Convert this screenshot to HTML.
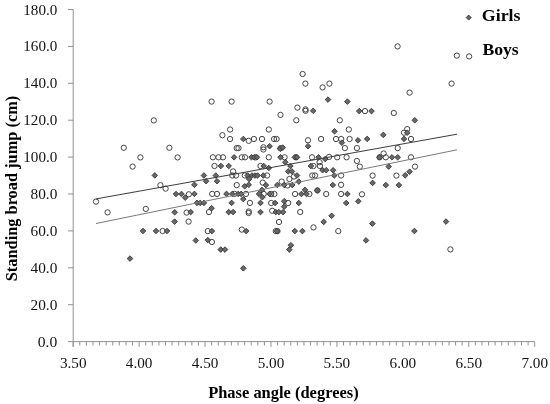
<!DOCTYPE html>
<html><head><meta charset="utf-8"><title>Standing broad jump vs phase angle</title>
<style>
html,body{margin:0;padding:0;background:#fff;}
svg{display:block;}
text{font-family:"Liberation Serif",serif;fill:#111;}
.tk{font-size:15.2px;}
.b{font-weight:bold;font-size:17.3px;fill:#000;}
</style></head><body>
<svg width="550" height="404" viewBox="0 0 550 404">
<rect width="550" height="404" fill="#fff"/>

<g stroke="#929292" stroke-width="1" fill="none" shape-rendering="auto">
<line x1="73.2" y1="9.5" x2="73.2" y2="346.9"/>
<line x1="73.2" y1="341.6" x2="534.7" y2="341.6"/>
<line x1="68" y1="341.60" x2="73.2" y2="341.60"/>
<line x1="68" y1="304.70" x2="73.2" y2="304.70"/>
<line x1="68" y1="267.80" x2="73.2" y2="267.80"/>
<line x1="68" y1="230.90" x2="73.2" y2="230.90"/>
<line x1="68" y1="194.00" x2="73.2" y2="194.00"/>
<line x1="68" y1="157.10" x2="73.2" y2="157.10"/>
<line x1="68" y1="120.20" x2="73.2" y2="120.20"/>
<line x1="68" y1="83.30" x2="73.2" y2="83.30"/>
<line x1="68" y1="46.40" x2="73.2" y2="46.40"/>
<line x1="68" y1="9.50" x2="73.2" y2="9.50"/>
<line x1="73.20" y1="341.6" x2="73.20" y2="346.9"/>
<line x1="79.79" y1="341.6" x2="79.79" y2="345.5"/>
<line x1="86.39" y1="341.6" x2="86.39" y2="345.5"/>
<line x1="92.98" y1="341.6" x2="92.98" y2="345.5"/>
<line x1="99.57" y1="341.6" x2="99.57" y2="345.5"/>
<line x1="106.16" y1="341.6" x2="106.16" y2="345.5"/>
<line x1="112.76" y1="341.6" x2="112.76" y2="345.5"/>
<line x1="119.35" y1="341.6" x2="119.35" y2="345.5"/>
<line x1="125.94" y1="341.6" x2="125.94" y2="345.5"/>
<line x1="132.54" y1="341.6" x2="132.54" y2="345.5"/>
<line x1="139.13" y1="341.6" x2="139.13" y2="346.9"/>
<line x1="145.72" y1="341.6" x2="145.72" y2="345.5"/>
<line x1="152.31" y1="341.6" x2="152.31" y2="345.5"/>
<line x1="158.91" y1="341.6" x2="158.91" y2="345.5"/>
<line x1="165.50" y1="341.6" x2="165.50" y2="345.5"/>
<line x1="172.09" y1="341.6" x2="172.09" y2="345.5"/>
<line x1="178.69" y1="341.6" x2="178.69" y2="345.5"/>
<line x1="185.28" y1="341.6" x2="185.28" y2="345.5"/>
<line x1="191.87" y1="341.6" x2="191.87" y2="345.5"/>
<line x1="198.46" y1="341.6" x2="198.46" y2="345.5"/>
<line x1="205.06" y1="341.6" x2="205.06" y2="346.9"/>
<line x1="211.65" y1="341.6" x2="211.65" y2="345.5"/>
<line x1="218.24" y1="341.6" x2="218.24" y2="345.5"/>
<line x1="224.84" y1="341.6" x2="224.84" y2="345.5"/>
<line x1="231.43" y1="341.6" x2="231.43" y2="345.5"/>
<line x1="238.02" y1="341.6" x2="238.02" y2="345.5"/>
<line x1="244.61" y1="341.6" x2="244.61" y2="345.5"/>
<line x1="251.21" y1="341.6" x2="251.21" y2="345.5"/>
<line x1="257.80" y1="341.6" x2="257.80" y2="345.5"/>
<line x1="264.39" y1="341.6" x2="264.39" y2="345.5"/>
<line x1="270.99" y1="341.6" x2="270.99" y2="346.9"/>
<line x1="277.58" y1="341.6" x2="277.58" y2="345.5"/>
<line x1="284.17" y1="341.6" x2="284.17" y2="345.5"/>
<line x1="290.76" y1="341.6" x2="290.76" y2="345.5"/>
<line x1="297.36" y1="341.6" x2="297.36" y2="345.5"/>
<line x1="303.95" y1="341.6" x2="303.95" y2="345.5"/>
<line x1="310.54" y1="341.6" x2="310.54" y2="345.5"/>
<line x1="317.14" y1="341.6" x2="317.14" y2="345.5"/>
<line x1="323.73" y1="341.6" x2="323.73" y2="345.5"/>
<line x1="330.32" y1="341.6" x2="330.32" y2="345.5"/>
<line x1="336.91" y1="341.6" x2="336.91" y2="346.9"/>
<line x1="343.51" y1="341.6" x2="343.51" y2="345.5"/>
<line x1="350.10" y1="341.6" x2="350.10" y2="345.5"/>
<line x1="356.69" y1="341.6" x2="356.69" y2="345.5"/>
<line x1="363.29" y1="341.6" x2="363.29" y2="345.5"/>
<line x1="369.88" y1="341.6" x2="369.88" y2="345.5"/>
<line x1="376.47" y1="341.6" x2="376.47" y2="345.5"/>
<line x1="383.06" y1="341.6" x2="383.06" y2="345.5"/>
<line x1="389.66" y1="341.6" x2="389.66" y2="345.5"/>
<line x1="396.25" y1="341.6" x2="396.25" y2="345.5"/>
<line x1="402.84" y1="341.6" x2="402.84" y2="346.9"/>
<line x1="409.44" y1="341.6" x2="409.44" y2="345.5"/>
<line x1="416.03" y1="341.6" x2="416.03" y2="345.5"/>
<line x1="422.62" y1="341.6" x2="422.62" y2="345.5"/>
<line x1="429.21" y1="341.6" x2="429.21" y2="345.5"/>
<line x1="435.81" y1="341.6" x2="435.81" y2="345.5"/>
<line x1="442.40" y1="341.6" x2="442.40" y2="345.5"/>
<line x1="448.99" y1="341.6" x2="448.99" y2="345.5"/>
<line x1="455.59" y1="341.6" x2="455.59" y2="345.5"/>
<line x1="462.18" y1="341.6" x2="462.18" y2="345.5"/>
<line x1="468.77" y1="341.6" x2="468.77" y2="346.9"/>
<line x1="475.36" y1="341.6" x2="475.36" y2="345.5"/>
<line x1="481.96" y1="341.6" x2="481.96" y2="345.5"/>
<line x1="488.55" y1="341.6" x2="488.55" y2="345.5"/>
<line x1="495.14" y1="341.6" x2="495.14" y2="345.5"/>
<line x1="501.74" y1="341.6" x2="501.74" y2="345.5"/>
<line x1="508.33" y1="341.6" x2="508.33" y2="345.5"/>
<line x1="514.92" y1="341.6" x2="514.92" y2="345.5"/>
<line x1="521.51" y1="341.6" x2="521.51" y2="345.5"/>
<line x1="528.11" y1="341.6" x2="528.11" y2="345.5"/>
<line x1="534.70" y1="341.6" x2="534.70" y2="346.9"/>
</g>
<text class="tk" x="57.3" y="346.60" text-anchor="end" textLength="19.5" lengthAdjust="spacingAndGlyphs">0.0</text>
<text class="tk" x="57.3" y="309.70" text-anchor="end" textLength="26.8" lengthAdjust="spacingAndGlyphs">20.0</text>
<text class="tk" x="57.3" y="272.80" text-anchor="end" textLength="26.8" lengthAdjust="spacingAndGlyphs">40.0</text>
<text class="tk" x="57.3" y="235.90" text-anchor="end" textLength="26.8" lengthAdjust="spacingAndGlyphs">60.0</text>
<text class="tk" x="57.3" y="199.00" text-anchor="end" textLength="26.8" lengthAdjust="spacingAndGlyphs">80.0</text>
<text class="tk" x="57.3" y="162.10" text-anchor="end" textLength="34" lengthAdjust="spacingAndGlyphs">100.0</text>
<text class="tk" x="57.3" y="125.20" text-anchor="end" textLength="34" lengthAdjust="spacingAndGlyphs">120.0</text>
<text class="tk" x="57.3" y="88.30" text-anchor="end" textLength="34" lengthAdjust="spacingAndGlyphs">140.0</text>
<text class="tk" x="57.3" y="51.40" text-anchor="end" textLength="34" lengthAdjust="spacingAndGlyphs">160.0</text>
<text class="tk" x="57.3" y="14.50" text-anchor="end" textLength="34" lengthAdjust="spacingAndGlyphs">180.0</text>
<text class="tk" x="73.20" y="368.4" text-anchor="middle" textLength="26.6" lengthAdjust="spacingAndGlyphs">3.50</text>
<text class="tk" x="139.13" y="368.4" text-anchor="middle" textLength="26.6" lengthAdjust="spacingAndGlyphs">4.00</text>
<text class="tk" x="205.06" y="368.4" text-anchor="middle" textLength="26.6" lengthAdjust="spacingAndGlyphs">4.50</text>
<text class="tk" x="270.99" y="368.4" text-anchor="middle" textLength="26.6" lengthAdjust="spacingAndGlyphs">5.00</text>
<text class="tk" x="336.91" y="368.4" text-anchor="middle" textLength="26.6" lengthAdjust="spacingAndGlyphs">5.50</text>
<text class="tk" x="402.84" y="368.4" text-anchor="middle" textLength="26.6" lengthAdjust="spacingAndGlyphs">6.00</text>
<text class="tk" x="468.77" y="368.4" text-anchor="middle" textLength="26.6" lengthAdjust="spacingAndGlyphs">6.50</text>
<text class="tk" x="534.70" y="368.4" text-anchor="middle" textLength="26.6" lengthAdjust="spacingAndGlyphs">7.00</text>
<text class="b" x="283.4" y="398.1" text-anchor="middle" textLength="150.5" lengthAdjust="spacingAndGlyphs">Phase angle (degrees)</text>
<text class="b" transform="translate(16.6,188.5) rotate(-90)" text-anchor="middle" textLength="185.5" lengthAdjust="spacingAndGlyphs">Standing broad jump (cm)</text>
<text class="b" x="481.8" y="21.3" textLength="38.7" lengthAdjust="spacingAndGlyphs">Girls</text>
<text class="b" x="482.4" y="55.1" textLength="36.3" lengthAdjust="spacingAndGlyphs">Boys</text>
<g fill="none" stroke="#454545" stroke-width="1">
<circle cx="153.8" cy="120.4" r="2.65"/>
<circle cx="123.8" cy="147.8" r="2.65"/>
<circle cx="169.4" cy="147.8" r="2.65"/>
<circle cx="140.4" cy="157.4" r="2.65"/>
<circle cx="177.6" cy="157.4" r="2.65"/>
<circle cx="132.6" cy="166.6" r="2.65"/>
<circle cx="160.4" cy="185.2" r="2.65"/>
<circle cx="165.6" cy="188.6" r="2.65"/>
<circle cx="212.9" cy="157.3" r="2.65"/>
<circle cx="218.5" cy="157.3" r="2.65"/>
<circle cx="223.0" cy="157.3" r="2.65"/>
<circle cx="241.8" cy="157.3" r="2.65"/>
<circle cx="245.0" cy="157.3" r="2.65"/>
<circle cx="255.5" cy="157.3" r="2.65"/>
<circle cx="268.8" cy="157.3" r="2.65"/>
<circle cx="236.7" cy="148.1" r="2.65"/>
<circle cx="238.5" cy="148.1" r="2.65"/>
<circle cx="263.4" cy="147.3" r="2.65"/>
<circle cx="263.4" cy="149.5" r="2.65"/>
<circle cx="230.1" cy="139.0" r="2.65"/>
<circle cx="248.7" cy="140.8" r="2.65"/>
<circle cx="253.9" cy="139.0" r="2.65"/>
<circle cx="262.0" cy="139.0" r="2.65"/>
<circle cx="222.4" cy="135.2" r="2.65"/>
<circle cx="230.1" cy="129.5" r="2.65"/>
<circle cx="268.8" cy="129.5" r="2.65"/>
<circle cx="297.4" cy="107.6" r="2.65"/>
<circle cx="305.5" cy="109.4" r="2.65"/>
<circle cx="305.5" cy="110.8" r="2.65"/>
<circle cx="280.5" cy="114.9" r="2.65"/>
<circle cx="296.3" cy="120.3" r="2.65"/>
<circle cx="339.8" cy="120.3" r="2.65"/>
<circle cx="348.8" cy="129.5" r="2.65"/>
<circle cx="274.1" cy="139.0" r="2.65"/>
<circle cx="276.6" cy="139.0" r="2.65"/>
<circle cx="321.1" cy="139.0" r="2.65"/>
<circle cx="336.0" cy="139.0" r="2.65"/>
<circle cx="341.2" cy="139.0" r="2.65"/>
<circle cx="349.6" cy="139.0" r="2.65"/>
<circle cx="308.0" cy="140.3" r="2.65"/>
<circle cx="280.5" cy="148.1" r="2.65"/>
<circle cx="344.9" cy="148.1" r="2.65"/>
<circle cx="284.6" cy="157.3" r="2.65"/>
<circle cx="296.0" cy="157.3" r="2.65"/>
<circle cx="312.0" cy="157.3" r="2.65"/>
<circle cx="329.1" cy="156.9" r="2.65"/>
<circle cx="337.2" cy="157.3" r="2.65"/>
<circle cx="346.6" cy="157.3" r="2.65"/>
<circle cx="319.6" cy="162.2" r="2.65"/>
<circle cx="365.0" cy="111.1" r="2.65"/>
<circle cx="393.8" cy="113.0" r="2.65"/>
<circle cx="407.2" cy="129.1" r="2.65"/>
<circle cx="404.0" cy="132.7" r="2.65"/>
<circle cx="411.0" cy="139.0" r="2.65"/>
<circle cx="356.9" cy="148.1" r="2.65"/>
<circle cx="397.7" cy="148.1" r="2.65"/>
<circle cx="383.6" cy="153.5" r="2.65"/>
<circle cx="379.6" cy="157.3" r="2.65"/>
<circle cx="385.8" cy="157.3" r="2.65"/>
<circle cx="411.0" cy="157.3" r="2.65"/>
<circle cx="356.9" cy="160.9" r="2.65"/>
<circle cx="211.6" cy="101.6" r="2.65"/>
<circle cx="231.6" cy="101.6" r="2.65"/>
<circle cx="269.6" cy="101.6" r="2.65"/>
<circle cx="397.6" cy="46.4" r="2.65"/>
<circle cx="302.6" cy="74.0" r="2.65"/>
<circle cx="305.4" cy="83.6" r="2.65"/>
<circle cx="329.4" cy="83.6" r="2.65"/>
<circle cx="322.6" cy="87.4" r="2.65"/>
<circle cx="456.8" cy="55.6" r="2.65"/>
<circle cx="451.6" cy="83.6" r="2.65"/>
<circle cx="409.6" cy="92.6" r="2.65"/>
<circle cx="214.5" cy="166.0" r="2.65"/>
<circle cx="260.5" cy="166.0" r="2.65"/>
<circle cx="233.1" cy="171.4" r="2.65"/>
<circle cx="232.3" cy="175.5" r="2.65"/>
<circle cx="236.0" cy="175.5" r="2.65"/>
<circle cx="244.8" cy="175.5" r="2.65"/>
<circle cx="267.1" cy="175.5" r="2.65"/>
<circle cx="236.7" cy="185.1" r="2.65"/>
<circle cx="262.7" cy="182.6" r="2.65"/>
<circle cx="212.2" cy="193.9" r="2.65"/>
<circle cx="217.0" cy="193.9" r="2.65"/>
<circle cx="246.0" cy="193.9" r="2.65"/>
<circle cx="234.5" cy="193.9" r="2.65"/>
<circle cx="263.7" cy="193.9" r="2.65"/>
<circle cx="249.9" cy="202.9" r="2.65"/>
<circle cx="209.0" cy="212.1" r="2.65"/>
<circle cx="248.7" cy="211.5" r="2.65"/>
<circle cx="248.7" cy="213.0" r="2.65"/>
<circle cx="313.5" cy="166.0" r="2.65"/>
<circle cx="319.9" cy="166.0" r="2.65"/>
<circle cx="312.3" cy="175.5" r="2.65"/>
<circle cx="315.0" cy="175.5" r="2.65"/>
<circle cx="341.1" cy="175.5" r="2.65"/>
<circle cx="294.0" cy="176.5" r="2.65"/>
<circle cx="289.4" cy="179.0" r="2.65"/>
<circle cx="281.7" cy="181.6" r="2.65"/>
<circle cx="287.5" cy="185.5" r="2.65"/>
<circle cx="341.1" cy="184.8" r="2.65"/>
<circle cx="317.4" cy="190.4" r="2.65"/>
<circle cx="271.2" cy="194.0" r="2.65"/>
<circle cx="274.4" cy="194.0" r="2.65"/>
<circle cx="295.1" cy="194.0" r="2.65"/>
<circle cx="309.4" cy="194.0" r="2.65"/>
<circle cx="326.2" cy="194.0" r="2.65"/>
<circle cx="341.1" cy="194.0" r="2.65"/>
<circle cx="271.2" cy="203.0" r="2.65"/>
<circle cx="288.2" cy="203.0" r="2.65"/>
<circle cx="272.2" cy="210.8" r="2.65"/>
<circle cx="300.2" cy="212.0" r="2.65"/>
<circle cx="359.8" cy="166.6" r="2.65"/>
<circle cx="415.0" cy="166.6" r="2.65"/>
<circle cx="372.6" cy="175.6" r="2.65"/>
<circle cx="396.4" cy="175.6" r="2.65"/>
<circle cx="362.0" cy="194.3" r="2.65"/>
<circle cx="188.8" cy="194.3" r="2.65"/>
<circle cx="145.8" cy="208.9" r="2.65"/>
<circle cx="186.6" cy="212.6" r="2.65"/>
<circle cx="96.0" cy="201.6" r="2.65"/>
<circle cx="107.6" cy="212.4" r="2.65"/>
<circle cx="188.6" cy="221.6" r="2.65"/>
<circle cx="162.6" cy="231.0" r="2.65"/>
<circle cx="207.8" cy="231.1" r="2.65"/>
<circle cx="241.8" cy="229.6" r="2.65"/>
<circle cx="211.9" cy="242.0" r="2.65"/>
<circle cx="279.0" cy="222.0" r="2.65"/>
<circle cx="313.5" cy="227.4" r="2.65"/>
<circle cx="338.3" cy="231.1" r="2.65"/>
<circle cx="275.8" cy="231.1" r="2.65"/>
<circle cx="277.5" cy="231.1" r="2.65"/>
<circle cx="450.4" cy="249.4" r="2.65"/>
<circle cx="469.1" cy="56.4" r="2.65"/>
</g>
<g fill="#686868" stroke="#323232" stroke-width="0.85">
<path d="M152.0 175.4L154.8 172.6L157.6 175.4L154.8 178.2Z"/>
<path d="M231.3 157.3L234.1 154.5L236.9 157.3L234.1 160.1Z"/>
<path d="M248.7 157.3L251.5 154.5L254.3 157.3L251.5 160.1Z"/>
<path d="M251.4 157.3L254.2 154.5L257.0 157.3L254.2 160.1Z"/>
<path d="M254.2 157.3L257.0 154.5L259.8 157.3L257.0 160.1Z"/>
<path d="M266.8 146.2L269.6 143.4L272.4 146.2L269.6 149.0Z"/>
<path d="M240.5 139.0L243.3 136.2L246.1 139.0L243.3 141.8Z"/>
<path d="M310.4 110.8L313.2 108.0L316.0 110.8L313.2 113.6Z"/>
<path d="M331.7 131.3L334.5 128.5L337.3 131.3L334.5 134.1Z"/>
<path d="M339.0 142.7L341.8 139.9L344.6 142.7L341.8 145.5Z"/>
<path d="M305.2 146.2L308.0 143.4L310.8 146.2L308.0 149.0Z"/>
<path d="M277.4 148.8L280.2 146.0L283.0 148.8L280.2 151.6Z"/>
<path d="M280.0 147.6L282.8 144.8L285.6 147.6L282.8 150.4Z"/>
<path d="M277.7 157.3L280.5 154.5L283.3 157.3L280.5 160.1Z"/>
<path d="M292.0 157.3L294.8 154.5L297.6 157.3L294.8 160.1Z"/>
<path d="M294.2 157.3L297.0 154.5L299.8 157.3L297.0 160.1Z"/>
<path d="M315.7 157.3L318.5 154.5L321.3 157.3L318.5 160.1Z"/>
<path d="M322.4 159.0L325.2 156.2L328.0 159.0L325.2 161.8Z"/>
<path d="M282.5 162.2L285.3 159.4L288.1 162.2L285.3 165.0Z"/>
<path d="M356.4 111.1L359.2 108.3L362.0 111.1L359.2 113.9Z"/>
<path d="M368.7 111.1L371.5 108.3L374.3 111.1L371.5 113.9Z"/>
<path d="M412.0 120.3L414.8 117.5L417.6 120.3L414.8 123.1Z"/>
<path d="M404.4 132.7L407.2 129.9L410.0 132.7L407.2 135.5Z"/>
<path d="M380.5 134.9L383.3 132.1L386.1 134.9L383.3 137.7Z"/>
<path d="M355.2 140.3L358.0 137.5L360.8 140.3L358.0 143.1Z"/>
<path d="M364.4 138.9L367.2 136.1L370.0 138.9L367.2 141.7Z"/>
<path d="M401.2 138.9L404.0 136.1L406.8 138.9L404.0 141.7Z"/>
<path d="M376.8 157.3L379.6 154.5L382.4 157.3L379.6 160.1Z"/>
<path d="M389.2 157.3L392.0 154.5L394.8 157.3L392.0 160.1Z"/>
<path d="M394.9 157.3L397.7 154.5L400.5 157.3L397.7 160.1Z"/>
<path d="M325.2 99.6L328.0 96.8L330.8 99.6L328.0 102.4Z"/>
<path d="M344.6 101.6L347.4 98.8L350.2 101.6L347.4 104.4Z"/>
<path d="M218.1 166.0L220.9 163.2L223.7 166.0L220.9 168.8Z"/>
<path d="M225.9 166.0L228.7 163.2L231.5 166.0L228.7 168.8Z"/>
<path d="M260.9 166.0L263.7 163.2L266.5 166.0L263.7 168.8Z"/>
<path d="M266.0 168.0L268.8 165.2L271.6 168.0L268.8 170.8Z"/>
<path d="M201.1 175.5L203.9 172.7L206.7 175.5L203.9 178.3Z"/>
<path d="M213.0 175.5L215.8 172.7L218.6 175.5L215.8 178.3Z"/>
<path d="M244.8 175.5L247.6 172.7L250.4 175.5L247.6 178.3Z"/>
<path d="M249.2 175.5L252.0 172.7L254.8 175.5L252.0 178.3Z"/>
<path d="M252.2 175.5L255.0 172.7L257.8 175.5L255.0 178.3Z"/>
<path d="M254.7 175.5L257.5 172.7L260.3 175.5L257.5 178.3Z"/>
<path d="M260.5 175.5L263.3 172.7L266.1 175.5L263.3 178.3Z"/>
<path d="M203.3 181.2L206.1 178.4L208.9 181.2L206.1 184.0Z"/>
<path d="M214.2 181.2L217.0 178.4L219.8 181.2L217.0 184.0Z"/>
<path d="M246.3 179.0L249.1 176.2L251.9 179.0L249.1 181.8Z"/>
<path d="M191.6 184.8L194.4 182.0L197.2 184.8L194.4 187.6Z"/>
<path d="M241.9 186.3L244.7 183.5L247.5 186.3L244.7 189.1Z"/>
<path d="M245.9 184.8L248.7 182.0L251.5 184.8L248.7 187.6Z"/>
<path d="M263.1 185.1L265.9 182.3L268.7 185.1L265.9 187.9Z"/>
<path d="M259.2 189.9L262.0 187.1L264.8 189.9L262.0 192.7Z"/>
<path d="M191.6 193.9L194.4 191.1L197.2 193.9L194.4 196.7Z"/>
<path d="M223.7 193.9L226.5 191.1L229.3 193.9L226.5 196.7Z"/>
<path d="M229.5 193.9L232.3 191.1L235.1 193.9L232.3 196.7Z"/>
<path d="M235.4 193.9L238.2 191.1L241.0 193.9L238.2 196.7Z"/>
<path d="M238.3 193.9L241.1 191.1L243.9 193.9L241.1 196.7Z"/>
<path d="M256.2 193.9L259.0 191.1L261.8 193.9L259.0 196.7Z"/>
<path d="M266.8 193.9L269.6 191.1L272.4 193.9L269.6 196.7Z"/>
<path d="M240.5 199.1L243.3 196.3L246.1 199.1L243.3 201.9Z"/>
<path d="M259.5 197.2L262.3 194.4L265.1 197.2L262.3 200.0Z"/>
<path d="M194.2 202.9L197.0 200.1L199.8 202.9L197.0 205.7Z"/>
<path d="M197.4 202.9L200.2 200.1L203.0 202.9L200.2 205.7Z"/>
<path d="M201.1 202.9L203.9 200.1L206.7 202.9L203.9 205.7Z"/>
<path d="M228.8 202.9L231.6 200.1L234.4 202.9L231.6 205.7Z"/>
<path d="M257.7 202.9L260.5 200.1L263.3 202.9L260.5 205.7Z"/>
<path d="M208.8 208.2L211.6 205.4L214.4 208.2L211.6 211.0Z"/>
<path d="M187.9 212.1L190.7 209.3L193.5 212.1L190.7 214.9Z"/>
<path d="M225.9 212.1L228.7 209.3L231.5 212.1L228.7 214.9Z"/>
<path d="M230.3 212.1L233.1 209.3L235.9 212.1L233.1 214.9Z"/>
<path d="M257.7 212.1L260.5 209.3L263.3 212.1L260.5 214.9Z"/>
<path d="M287.6 166.0L290.4 163.2L293.2 166.0L290.4 168.8Z"/>
<path d="M308.1 166.0L310.9 163.2L313.7 166.0L310.9 168.8Z"/>
<path d="M285.4 171.4L288.2 168.6L291.0 171.4L288.2 174.2Z"/>
<path d="M289.1 171.4L291.9 168.6L294.7 171.4L291.9 174.2Z"/>
<path d="M319.8 170.2L322.6 167.4L325.4 170.2L322.6 173.0Z"/>
<path d="M323.4 170.2L326.2 167.4L329.0 170.2L326.2 173.0Z"/>
<path d="M330.3 170.2L333.1 167.4L335.9 170.2L333.1 173.0Z"/>
<path d="M294.2 175.5L297.0 172.7L299.8 175.5L297.0 178.3Z"/>
<path d="M331.4 175.5L334.2 172.7L337.0 175.5L334.2 178.3Z"/>
<path d="M296.0 181.6L298.8 178.8L301.6 181.6L298.8 184.4Z"/>
<path d="M274.5 185.0L277.3 182.2L280.1 185.0L277.3 187.8Z"/>
<path d="M281.4 185.0L284.2 182.2L287.0 185.0L284.2 187.8Z"/>
<path d="M289.4 185.0L292.2 182.2L295.0 185.0L292.2 187.8Z"/>
<path d="M330.0 185.0L332.8 182.2L335.6 185.0L332.8 187.8Z"/>
<path d="M302.2 189.9L305.0 187.1L307.8 189.9L305.0 192.7Z"/>
<path d="M314.6 190.4L317.4 187.6L320.2 190.4L317.4 193.2Z"/>
<path d="M298.6 194.0L301.4 191.2L304.2 194.0L301.4 196.8Z"/>
<path d="M303.7 194.0L306.5 191.2L309.3 194.0L306.5 196.8Z"/>
<path d="M344.6 194.0L347.4 191.2L350.2 194.0L347.4 196.8Z"/>
<path d="M272.3 203.0L275.1 200.2L277.9 203.0L275.1 205.8Z"/>
<path d="M281.4 201.2L284.2 198.4L287.0 201.2L284.2 204.0Z"/>
<path d="M296.0 203.0L298.8 200.2L301.6 203.0L298.8 205.8Z"/>
<path d="M343.4 203.0L346.2 200.2L349.0 203.0L346.2 205.8Z"/>
<path d="M281.4 206.7L284.2 203.9L287.0 206.7L284.2 209.5Z"/>
<path d="M273.0 212.1L275.8 209.3L278.6 212.1L275.8 214.9Z"/>
<path d="M276.0 212.1L278.8 209.3L281.6 212.1L278.8 214.9Z"/>
<path d="M280.3 212.1L283.1 209.3L285.9 212.1L283.1 214.9Z"/>
<path d="M328.8 215.8L331.6 213.0L334.4 215.8L331.6 218.6Z"/>
<path d="M385.9 166.6L388.7 163.8L391.5 166.6L388.7 169.4Z"/>
<path d="M406.8 171.7L409.6 168.9L412.4 171.7L409.6 174.5Z"/>
<path d="M402.4 175.3L405.2 172.5L408.0 175.3L405.2 178.1Z"/>
<path d="M369.8 182.9L372.6 180.1L375.4 182.9L372.6 185.7Z"/>
<path d="M383.0 185.1L385.8 182.3L388.6 185.1L385.8 187.9Z"/>
<path d="M396.1 185.1L398.9 182.3L401.7 185.1L398.9 187.9Z"/>
<path d="M355.5 201.3L358.3 198.5L361.1 201.3L358.3 204.1Z"/>
<path d="M173.2 194.0L176.0 191.2L178.8 194.0L176.0 196.8Z"/>
<path d="M178.7 194.0L181.5 191.2L184.3 194.0L181.5 196.8Z"/>
<path d="M182.4 197.7L185.2 194.9L188.0 197.7L185.2 200.5Z"/>
<path d="M171.9 212.3L174.7 209.5L177.5 212.3L174.7 215.1Z"/>
<path d="M171.8 221.6L174.6 218.8L177.4 221.6L174.6 224.4Z"/>
<path d="M140.2 231.0L143.0 228.2L145.8 231.0L143.0 233.8Z"/>
<path d="M153.2 231.0L156.0 228.2L158.8 231.0L156.0 233.8Z"/>
<path d="M164.2 231.0L167.0 228.2L169.8 231.0L167.0 233.8Z"/>
<path d="M127.2 258.6L130.0 255.8L132.8 258.6L130.0 261.4Z"/>
<path d="M209.1 231.1L211.9 228.3L214.7 231.1L211.9 233.9Z"/>
<path d="M243.4 231.1L246.2 228.3L249.0 231.1L246.2 233.9Z"/>
<path d="M193.0 240.5L195.8 237.7L198.6 240.5L195.8 243.3Z"/>
<path d="M205.0 240.1L207.8 237.3L210.6 240.1L207.8 242.9Z"/>
<path d="M217.9 249.6L220.7 246.8L223.5 249.6L220.7 252.4Z"/>
<path d="M222.2 249.6L225.0 246.8L227.8 249.6L225.0 252.4Z"/>
<path d="M240.5 268.3L243.3 265.5L246.1 268.3L243.3 271.1Z"/>
<path d="M320.9 221.9L323.7 219.1L326.5 221.9L323.7 224.7Z"/>
<path d="M274.2 231.1L277.0 228.3L279.8 231.1L277.0 233.9Z"/>
<path d="M292.0 231.1L294.8 228.3L297.6 231.1L294.8 233.9Z"/>
<path d="M299.6 231.1L302.4 228.3L305.2 231.1L302.4 233.9Z"/>
<path d="M288.1 245.2L290.9 242.4L293.7 245.2L290.9 248.0Z"/>
<path d="M286.5 249.6L289.3 246.8L292.1 249.6L289.3 252.4Z"/>
<path d="M369.6 223.6L372.4 220.8L375.2 223.6L372.4 226.4Z"/>
<path d="M363.2 240.4L366.0 237.6L368.8 240.4L366.0 243.2Z"/>
<path d="M411.6 231.0L414.4 228.2L417.2 231.0L414.4 233.8Z"/>
<path d="M443.2 221.6L446.0 218.8L448.8 221.6L446.0 224.4Z"/>
<path d="M466.2 17.6L468.7 15.1L471.2 17.6L468.7 20.1Z"/>
</g>
<line x1="96" y1="198.9" x2="457" y2="134.2" stroke="#3c3c3c" stroke-width="1"/>
<line x1="96" y1="223.5" x2="457" y2="149.8" stroke="#7a7a7a" stroke-width="1"/>
</svg></body></html>
